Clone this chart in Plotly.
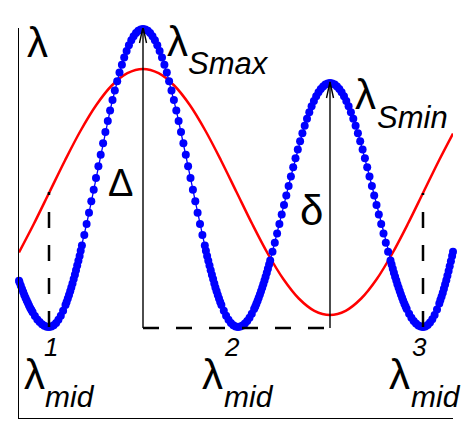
import plotly.graph_objects as go

# red curve: lambda_S (x, y in plot pixels from the lower-left corner)
red_x = [0, 14.9, 30.5, 46.1, 61.7, 77.3, 92.8, 108.4, 124, 139.6, 155.2, 170.8, 186.3, 201.9,
         217.5, 233.1, 248.7, 264.3, 279.8, 295.4, 311, 326.6, 342.2, 357.8, 373.3, 388.9,
         404.5, 420.1, 434]
red_y = [165.6, 194.2, 226.0, 257.8, 287.5, 313.0, 332.5, 344.8, 349.0, 344.8, 332.5, 313.0,
         287.5, 257.8, 226.0, 194.2, 164.5, 139.0, 119.5, 107.2, 103.0, 107.2, 119.5, 139.0,
         164.5, 194.2, 226.0, 257.8, 284.5]

# blue dotted curve: lambda
blue_x = [
    0.0, 0.6, 1.8, 3.0, 4.2, 5.3, 6.5, 7.7, 8.9, 10.0, 11.2, 12.4, 13.6, 15.9, 18.3, 20.6, 23.0,
    25.3, 27.7,
    30.0, 32.4, 34.7, 37.1, 39.4, 41.8, 44.1, 46.5, 47.6, 48.8, 50.0, 51.2, 52.3, 53.5, 54.7,
    55.9, 57.0, 58.2, 59.4, 60.6, 61.7, 62.9, 65.3, 67.6, 70.0, 72.3, 74.7, 77.0, 79.4, 81.7,
    84.1, 86.4, 88.8, 91.1, 93.5, 95.8, 98.2, 100.5, 102.9, 105.2, 107.6, 109.9, 112.3, 114.6,
    117.0, 119.3, 121.7, 124.0,
    126.4, 128.8, 131.1, 133.5, 135.9, 138.3, 140.6, 143.0, 145.4, 147.8, 150.1, 152.5, 154.9,
    157.3, 159.6, 162.0, 164.4, 166.8, 169.1, 171.5, 173.9, 176.3, 178.6, 181.0, 183.4, 185.8,
    186.9, 188.1, 189.3, 190.5, 191.7, 192.9, 194.1, 195.3, 196.4, 197.6, 198.8, 200.0, 201.2,
    202.4, 204.8, 207.1, 209.5, 211.9, 214.3, 216.6, 219.0,
    221.3, 223.6, 225.9, 228.2, 230.5, 232.8, 235.1, 236.3, 237.4, 238.6, 239.7, 240.9, 242.0,
    243.2, 244.3, 245.5, 246.6, 247.8, 248.9, 250.1, 251.2, 253.5, 255.8, 258.1, 260.4, 262.7,
    265.0, 267.3, 269.6, 271.9, 274.2, 276.5, 278.8, 281.1, 283.4, 285.7, 288.0, 290.3, 292.6,
    294.9, 297.2, 299.5, 301.8, 304.1, 306.4, 308.7, 311.0,
    313.3, 315.7, 318.0, 320.3, 322.6, 325.0, 327.3, 329.6, 331.9, 334.3, 336.6, 338.9, 341.2,
    343.6, 345.9, 348.2, 350.5, 352.9, 355.2, 357.5, 359.8, 362.2, 364.5, 366.8, 369.1, 371.5,
    372.6, 373.8, 374.9, 376.1, 377.3, 378.4, 379.6, 380.8, 381.9, 383.1, 384.2, 385.4, 386.6,
    387.7, 390.1, 392.4, 394.7, 397.0, 399.4, 401.7, 404.0,
    406.3, 408.7, 411.0, 413.3, 415.6, 418.0, 420.3, 421.4, 422.6, 423.8, 424.9, 426.1, 427.3,
    428.4, 429.6, 430.7, 431.9, 433.1, 434.0,
]
blue_y = [
    137.2, 135.4, 132.2, 129.1, 126.1, 123.1, 120.3, 117.6, 115.0, 112.5, 110.1, 107.9, 105.7,
    101.9, 98.6, 95.9, 93.8, 92.2, 91.3,
    91.0, 91.5, 92.8, 95.1, 98.3, 102.3, 107.2, 113.0, 116.1, 119.5, 123.0, 126.7, 130.6, 134.6,
    138.9, 143.2, 147.8, 152.4, 157.2, 162.1, 167.2, 172.4, 183.0, 194.0, 205.2, 216.7, 228.3,
    240.0, 251.7, 263.3, 274.8, 286.0, 297.0, 307.6, 317.9, 327.6, 336.8, 345.4, 353.3, 360.5,
    367.0, 372.8, 377.7, 381.7, 384.9, 387.2, 388.5, 389.0,
    388.5, 387.2, 384.9, 381.7, 377.7, 372.8, 367.0, 360.5, 353.3, 345.4, 336.8, 327.6, 317.9,
    307.6, 297.0, 286.0, 274.8, 263.3, 251.7, 240.0, 228.3, 216.7, 205.2, 194.0, 183.0, 172.4,
    167.2, 162.1, 157.2, 152.4, 147.8, 143.2, 138.9, 134.6, 130.6, 126.7, 123.0, 119.5, 116.1,
    113.0, 107.2, 102.3, 98.3, 95.1, 92.8, 91.5, 91.0,
    91.4, 92.5, 94.4, 97.0, 100.3, 104.3, 109.0, 111.6, 114.3, 117.2, 120.2, 123.4, 126.7,
    130.2, 133.8, 137.5, 141.3, 145.2, 149.3, 153.4, 157.6, 166.3, 175.3, 184.5, 193.9, 203.4,
    213.0, 222.6, 232.1, 241.5, 250.7, 259.7, 268.4, 276.7, 284.7, 292.2, 299.3, 305.8, 311.7,
    317.0, 321.7, 325.7, 329.0, 331.6, 333.5, 334.6, 335.0,
    334.6, 333.5, 331.6, 329.0, 325.7, 321.7, 317.0, 311.7, 305.8, 299.3, 292.2, 284.7, 276.7,
    268.4, 259.7, 250.7, 241.5, 232.1, 222.6, 213.0, 203.4, 193.9, 184.5, 175.3, 166.3, 157.6,
    153.4, 149.3, 145.2, 141.3, 137.5, 133.8, 130.2, 126.7, 123.4, 120.2, 117.2, 114.3, 111.6,
    109.0, 104.3, 100.3, 97.0, 94.4, 92.5, 91.4, 91.0,
    91.5, 93.0, 95.4, 98.8, 103.1, 108.4, 114.5, 117.9, 121.5, 125.2, 129.2, 133.4, 137.7,
    142.2, 146.9, 151.8, 156.7, 161.9, 166.2,
]

# guide positions
mid_x = [30, 219, 404]        # minima of the blue curve (lambda_mid)
mid_level = 90
red_at_mid = [226, 225]       # red curve above the first and last minima
peak_x = [124, 311]           # lambda_Smax, lambda_Smin
peak_y = [391, 336]

FONT = "Liberation Sans, Arial, sans-serif"

fig = go.Figure()
fig.add_trace(go.Scatter(x=red_x, y=red_y, mode="lines", cliponaxis=False,
                         line=dict(color="#ff0000", width=2.5, shape="spline")))
fig.add_trace(go.Scatter(x=blue_x, y=blue_y, mode="lines+markers", cliponaxis=False,
                         line=dict(color="#0000ff", width=1.3),
                         marker=dict(color="#0000ff", size=8, line=dict(width=0))))

dash = "16px,17px"
for x, top in zip([mid_x[0], mid_x[2]], red_at_mid):
    fig.add_shape(type="line", x0=x, y0=mid_level + 1, x1=x, y1=top,
                  line=dict(color="black", width=2.5, dash=dash))
fig.add_shape(type="line", x0=peak_x[0], y0=mid_level, x1=peak_x[1], y1=mid_level,
              line=dict(color="black", width=2.5, dash=dash))
for x, y in zip(peak_x, peak_y):
    fig.add_shape(type="line", x0=x, y0=mid_level, x1=x, y1=y,
                  line=dict(color="black", width=1.4))
    fig.add_shape(type="path", path=f"M {x - 3.5},{y - 16} L {x},{y} L {x + 3.5},{y - 16}",
                  line=dict(color="black", width=1.4))


def label(x, y, text, size, italic=False):
    if italic:
        text = f"<i>{text}</i>"
    fig.add_annotation(x=x, y=y, text=text, showarrow=False, xanchor="center",
                       yanchor="middle", font=dict(family=FONT, size=size, color="black"))


label(18.5, 376, "λ", 42)
label(158, 377, "λ", 42)
label(209.5, 355, "Smax", 31, True)
label(346, 324, "λ", 42)
label(393.5, 300.5, "Smin", 31, True)
label(101.5, 235.5, "Δ", 38)
label(292, 208, "δ", 42)
for lx, sx, mx, n in [(15, 32, 51, "1"), (193, 213, 229.5, "2"), (380, 400.5, 417, "3")]:
    label(lx, 44, "λ", 42)
    label(sx, 71, n, 26, True)
    label(mx, 22, "mid", 30, True)

axis = dict(showgrid=False, zeroline=False, showticklabels=False, ticks="",
            showline=True, linecolor="black", linewidth=1)
# the page puts the plot 8 px in from the top-left corner
fig.update_layout(
    width=466, height=439,
    margin=dict(l=11, r=21, t=20, b=29),
    paper_bgcolor="white", plot_bgcolor="white",
    showlegend=False,
    xaxis=dict(range=[0, 434], **axis),
    yaxis=dict(range=[0, 390], **axis),
)

fig.write_html("out.html")
